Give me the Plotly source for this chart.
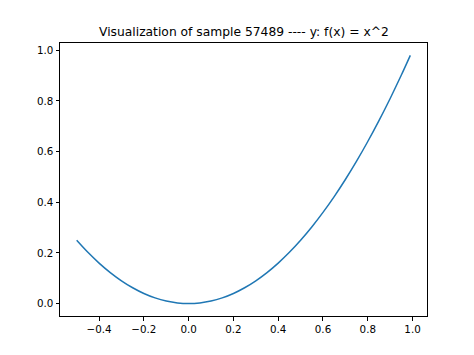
import plotly.graph_objects as go

x_vals = [-0.5, -0.45, -0.4, -0.35, -0.3, -0.25, -0.2, -0.15, -0.1, -0.05, 0.0,
          0.05, 0.1, 0.15, 0.2, 0.25, 0.3, 0.35, 0.4, 0.45, 0.5,
          0.55, 0.6, 0.65, 0.7, 0.75, 0.8, 0.85, 0.9, 0.95, 0.99]
y_vals = [0.25, 0.2025, 0.16, 0.1225, 0.09, 0.0625, 0.04, 0.0225, 0.01, 0.0025, 0.0,
          0.0025, 0.01, 0.0225, 0.04, 0.0625, 0.09, 0.1225, 0.16, 0.2025, 0.25,
          0.3025, 0.36, 0.4225, 0.49, 0.5625, 0.64, 0.7225, 0.81, 0.9025, 0.9801]
x_ticks = [-0.4, -0.2, 0.0, 0.2, 0.4, 0.6, 0.8, 1.0]
y_ticks = [0.0, 0.2, 0.4, 0.6, 0.8, 1.0]
title_text = "Visualization of sample 57489 ---- y: f(x) = x^2"

fig = go.Figure(go.Scatter(x=x_vals, y=y_vals, mode="lines", line_shape="spline",
                           line=dict(color="#1f77b4", width=1.5)))

axis_common = dict(showline=True, mirror=True, linecolor="black", linewidth=0.8,
                   ticks="outside", ticklen=3.6, tickwidth=0.8, tickcolor="black",
                   showgrid=False, zeroline=False, tickformat=".1f",
                   tickfont=dict(family="DejaVu Sans", size=10.3, color="black"))

fig.update_layout(
    width=474, height=355,
    margin=dict(l=59.5, r=47.3, t=42.6, b=39, autoexpand=False),
    paper_bgcolor="white", plot_bgcolor="white",
    showlegend=False,
    xaxis=dict(range=[-0.5745, 1.0645], tickvals=x_ticks, **axis_common),
    yaxis=dict(range=[-0.049, 1.029], tickvals=y_ticks, **axis_common),
    annotations=[dict(text=title_text, xref="paper", yref="paper", x=0.5, y=1,
                      xanchor="center", yanchor="bottom", yshift=2, showarrow=False,
                      font=dict(family="DejaVu Sans", size=12.3, color="black"))],
)

fig.write_html("out.html", config={"displayModeBar": False},
               post_script="document.body.style.margin='0';")
